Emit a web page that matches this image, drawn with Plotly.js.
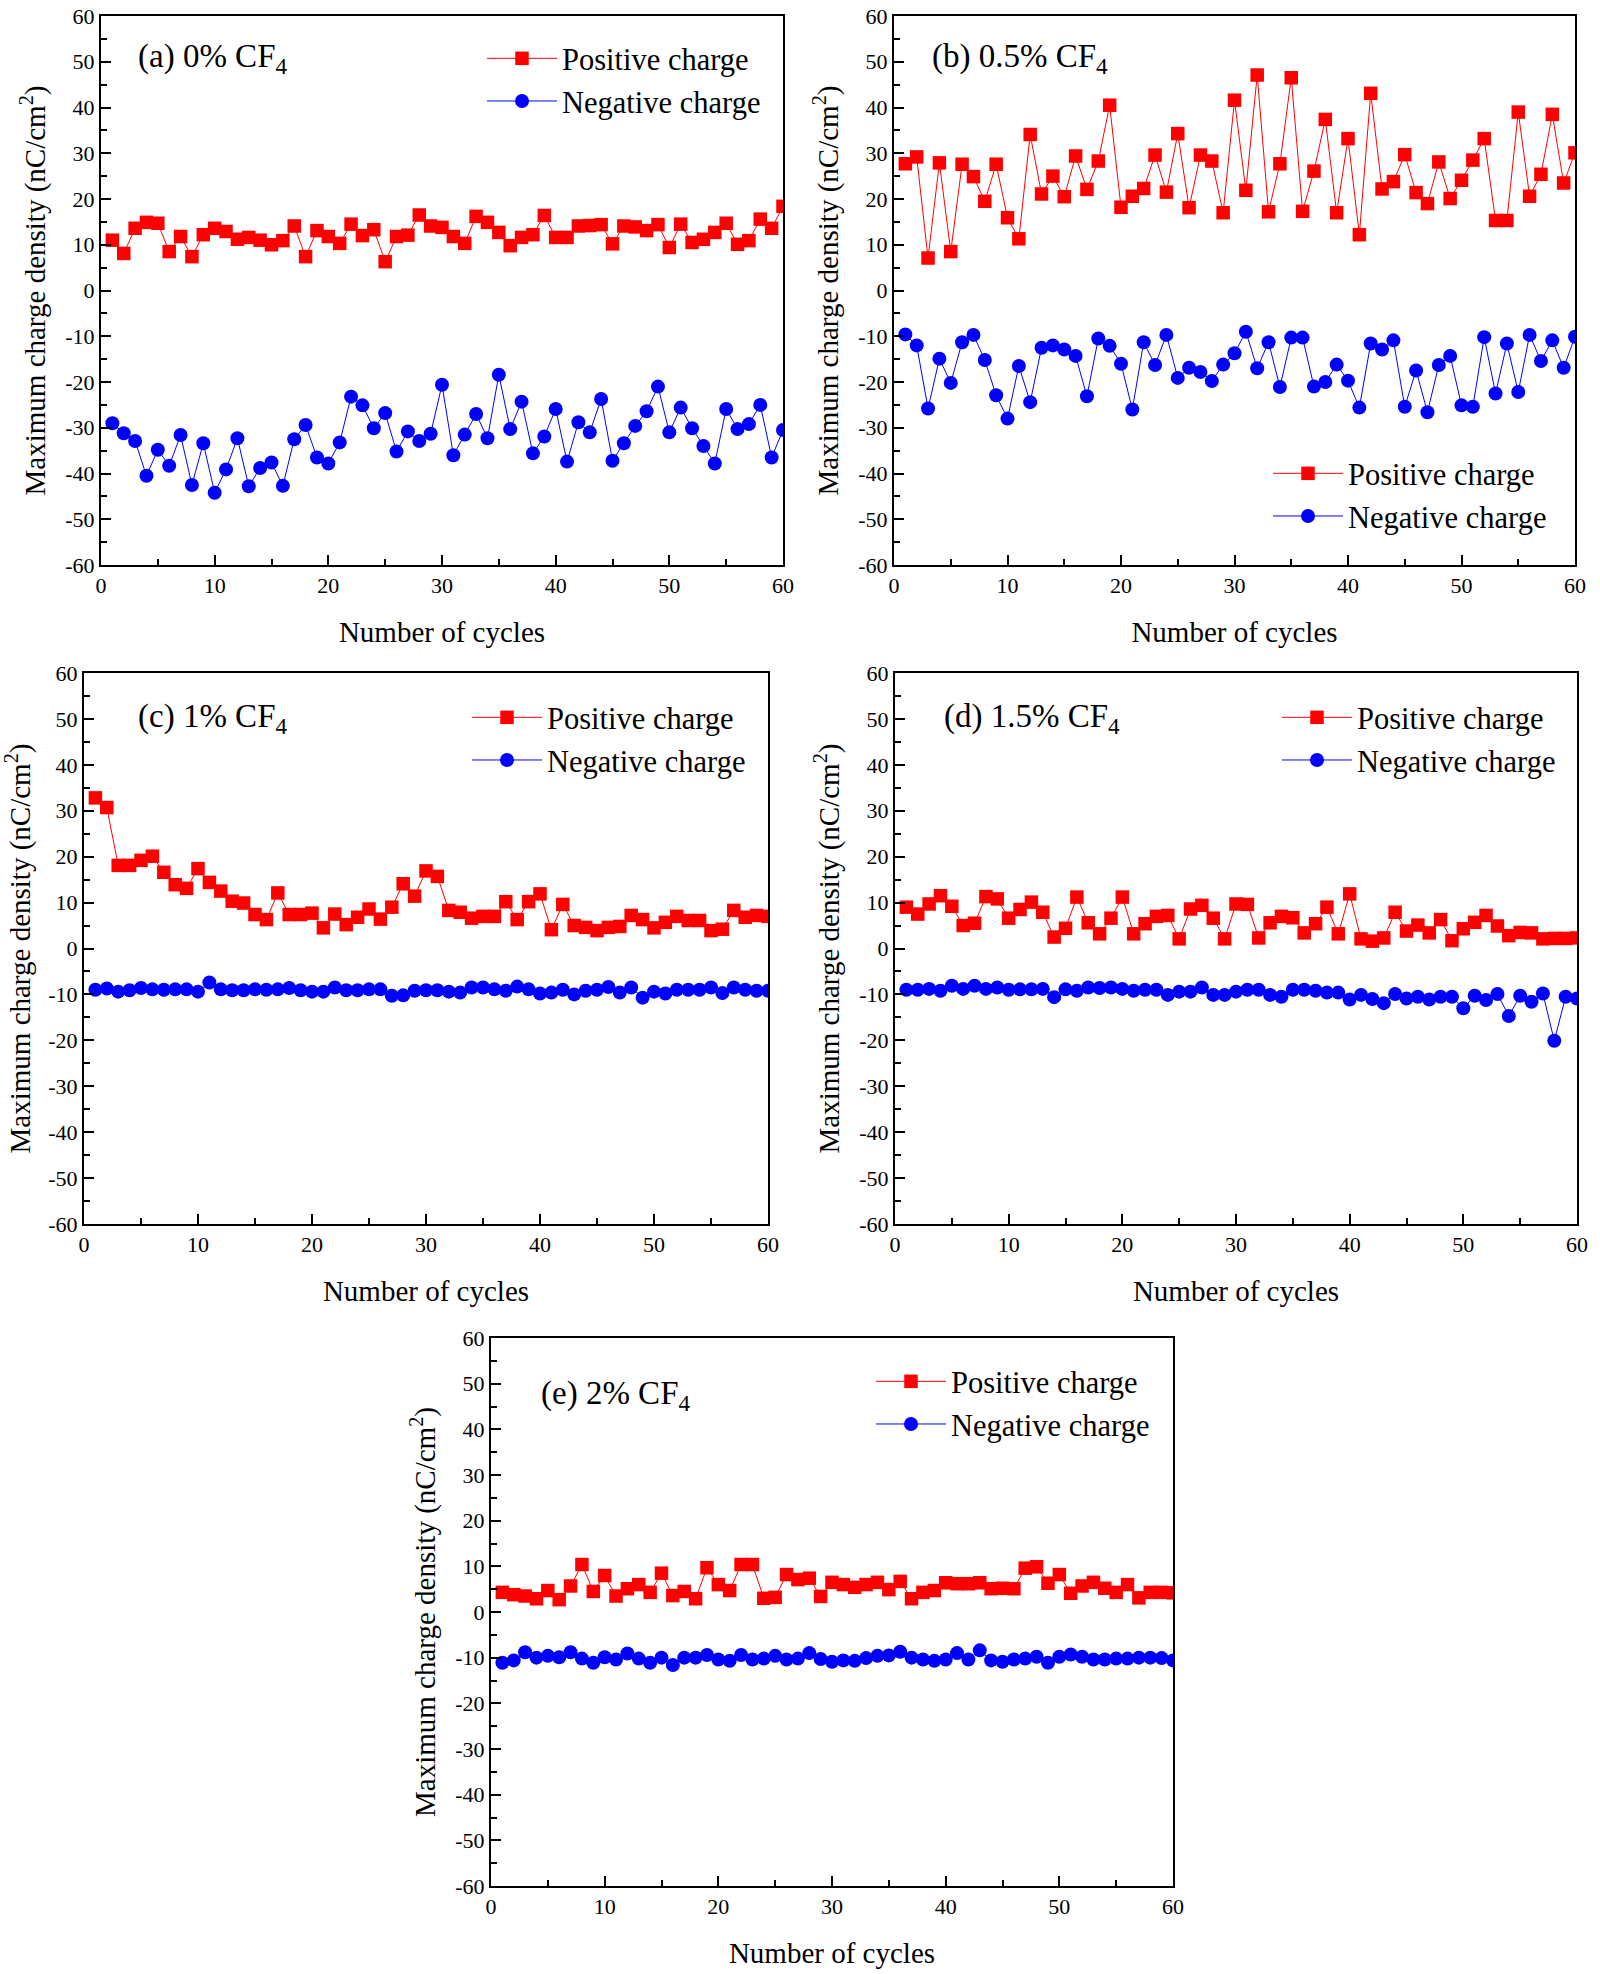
<!DOCTYPE html>
<html>
<head>
<meta charset="utf-8">
<script src="https://cdn.plot.ly/plotly-3.0.1.min.js"></script>
<style>
  html, body { margin: 0; padding: 0; background: #ffffff; }
  #chart { width: 1600px; height: 1974px; }
</style>
</head>
<body>
<div id="chart"></div>
<script>
// ---------------- DATA ----------------
const cycles = [1,2,3,4,5,6,7,8,9,10,11,12,13,14,15,16,17,18,19,20,21,22,23,24,25,26,27,28,29,30,
                31,32,33,34,35,36,37,38,39,40,41,42,43,44,45,46,47,48,49,50,51,52,53,54,55,56,57,58,59,60];

const panelLabels = ['(a) 0% CF<sub>4</sub>', '(b) 0.5% CF<sub>4</sub>', '(c) 1% CF<sub>4</sub>',
                     '(d) 1.5% CF<sub>4</sub>', '(e) 2% CF<sub>4</sub>'];
const seriesNames = ['Positive charge', 'Negative charge'];
const xTitle = 'Number of cycles';
const yTitle = 'Maximum charge density (nC/cm<sup>2</sup>)';
const xTickVals = [0, 10, 20, 30, 40, 50, 60];
const xTickText = ['0', '10', '20', '30', '40', '50', '60'];
const yTickVals = [-60, -50, -40, -30, -20, -10, 0, 10, 20, 30, 40, 50, 60];
const yTickText = ['-60', '-50', '-40', '-30', '-20', '-10', '0', '10', '20', '30', '40', '50', '60'];

// (a) 0% CF4
const posA = [11.0, 8.1, 13.6, 14.9, 14.7, 8.5, 11.8, 7.4, 12.2, 13.6, 12.9, 11.2, 11.6, 11.0, 10.0, 10.9, 14.1, 7.4, 13.1, 11.8,
              10.3, 14.5, 12.0, 13.3, 6.3, 11.8, 12.1, 16.5, 14.1, 13.8, 11.8, 10.3, 16.2, 14.9, 12.7, 9.8, 11.6, 12.2, 16.4, 11.6,
              11.6, 14.1, 14.2, 14.4, 10.2, 14.1, 13.9, 13.1, 14.4, 9.4, 14.5, 10.5, 11.2, 12.7, 14.7, 10.1, 10.9, 15.6, 13.6, 18.4];
const negA = [-29.0, -31.2, -32.9, -40.5, -34.8, -38.3, -31.6, -42.5, -33.4, -44.2, -39.1, -32.3, -42.8, -38.8, -37.6, -42.7, -32.5, -29.4, -36.5, -37.8,
              -33.2, -23.2, -25.1, -30.1, -26.8, -35.2, -30.8, -32.9, -31.3, -20.6, -36.0, -31.5, -27.0, -32.3, -18.4, -30.3, -24.3, -35.6, -31.9, -25.9,
              -37.4, -28.8, -31.0, -23.7, -37.2, -33.4, -29.6, -26.4, -21.0, -31.0, -25.6, -30.1, -34.0, -37.8, -25.9, -30.3, -29.2, -25.0, -36.5, -30.5];

// (b) 0.5% CF4
const posB = [27.7, 29.2, 7.1, 27.9, 8.5, 27.6, 24.9, 19.5, 27.6, 15.9, 11.3, 34.1, 21.1, 25.0, 20.5, 29.4, 22.1, 28.3, 40.5, 18.2,
              20.6, 22.3, 29.6, 21.5, 34.3, 18.1, 29.6, 28.3, 17.0, 41.6, 21.9, 47.1, 17.2, 27.7, 46.5, 17.3, 26.1, 37.4, 17.0, 33.2,
              12.2, 43.1, 22.2, 23.8, 29.7, 21.4, 19.0, 28.1, 20.1, 24.1, 28.5, 33.2, 15.3, 15.3, 39.0, 20.6, 25.4, 38.5, 23.5, 30.1];
const negB = [-9.6, -12.0, -25.8, -14.9, -20.2, -11.3, -9.7, -15.2, -22.9, -28.0, -16.5, -24.4, -12.5, -12.0, -12.9, -14.3, -23.1, -10.5, -12.1, -16.0,
              -26.0, -11.3, -16.3, -9.7, -19.1, -16.9, -17.8, -19.8, -16.2, -13.7, -9.0, -17.0, -11.3, -21.1, -10.3, -10.3, -21.0, -20.0, -16.2, -19.7,
              -25.6, -11.6, -12.9, -10.9, -25.4, -17.5, -26.6, -16.3, -14.3, -25.1, -25.4, -10.2, -22.5, -11.6, -22.2, -9.7, -15.4, -10.9, -16.9, -10.1];

// (c) 1% CF4
const posC = [32.8, 30.7, 18.1, 18.1, 19.2, 20.1, 16.6, 13.9, 13.1, 17.4, 14.4, 12.5, 10.3, 9.9, 7.4, 6.3, 12.1, 7.4, 7.4, 7.7,
              4.5, 7.5, 5.2, 6.8, 8.6, 6.4, 9.0, 14.1, 11.4, 16.9, 15.7, 8.3, 7.9, 6.6, 7.0, 7.0, 10.2, 6.3, 10.2, 11.9,
              4.1, 9.6, 5.0, 4.6, 3.9, 4.6, 4.8, 7.2, 6.3, 4.5, 5.7, 7.0, 6.1, 6.1, 3.9, 4.2, 8.3, 6.8, 7.2, 7.0];
const negC = [-9.0, -8.7, -9.4, -9.1, -8.6, -8.9, -9.0, -8.9, -8.9, -9.4, -7.4, -8.9, -9.1, -9.1, -8.9, -9.0, -8.9, -8.6, -9.1, -9.4,
              -9.4, -8.5, -9.1, -9.1, -8.9, -8.9, -10.3, -10.2, -9.2, -9.1, -9.1, -9.4, -9.6, -8.5, -8.5, -8.9, -9.2, -8.3, -8.9, -9.8,
              -9.6, -9.0, -10.0, -9.2, -9.0, -8.4, -9.6, -8.5, -10.7, -9.4, -9.8, -9.0, -9.0, -9.0, -8.5, -9.7, -8.5, -9.0, -9.2, -9.2];

// (d) 1.5% CF4
const posD = [9.0, 7.5, 9.7, 11.5, 9.2, 5.0, 5.5, 11.3, 10.8, 6.6, 8.5, 10.1, 7.9, 2.5, 4.4, 11.2, 5.6, 3.2, 6.6, 11.2,
              3.2, 5.4, 7.0, 7.2, 2.1, 8.6, 9.4, 6.6, 2.1, 9.7, 9.6, 2.3, 5.6, 7.0, 6.7, 3.4, 5.4, 9.0, 3.2, 11.9,
              2.1, 1.6, 2.3, 7.9, 3.8, 5.1, 3.4, 6.3, 1.7, 4.3, 5.7, 7.2, 4.9, 2.8, 3.5, 3.4, 2.1, 2.2, 2.2, 2.3];
const negD = [-9.0, -9.0, -8.8, -9.2, -8.1, -8.8, -8.1, -8.8, -8.5, -9.0, -8.9, -8.9, -8.8, -10.6, -8.9, -9.2, -8.5, -8.6, -8.5, -8.8,
              -9.2, -9.0, -9.0, -10.1, -9.4, -9.4, -8.5, -10.1, -10.1, -9.4, -9.0, -9.0, -10.1, -10.5, -9.0, -9.0, -9.2, -9.6, -9.6, -11.1,
              -10.1, -11.0, -11.9, -9.9, -10.9, -10.5, -11.1, -10.5, -10.5, -13.0, -10.3, -11.2, -9.9, -14.7, -10.3, -11.6, -9.8, -20.1, -10.5, -10.9];

// (e) 2% CF4
const posE = [4.3, 3.8, 3.5, 2.9, 4.7, 2.7, 5.7, 10.4, 4.5, 8.0, 3.5, 5.1, 6.0, 4.3, 8.5, 3.6, 4.5, 2.9, 9.7, 6.0,
              4.7, 10.4, 10.4, 3.0, 3.2, 8.2, 7.1, 7.4, 3.4, 6.5, 6.0, 5.4, 6.0, 6.5, 4.9, 6.7, 2.9, 4.3, 4.7, 6.4,
              6.2, 6.2, 6.4, 5.1, 5.2, 5.1, 9.6, 9.9, 6.3, 8.2, 4.1, 5.7, 6.5, 5.2, 4.3, 6.0, 3.1, 4.3, 4.3, 4.2];
const negE = [-11.1, -10.6, -8.8, -10.0, -9.6, -9.9, -8.8, -10.2, -11.1, -9.9, -10.4, -9.1, -10.2, -11.1, -10.0, -11.6, -10.0, -10.0, -9.4, -10.4,
              -10.7, -9.4, -10.4, -10.2, -9.6, -10.4, -10.2, -9.0, -10.3, -10.9, -10.6, -10.7, -10.1, -9.6, -9.5, -8.7, -10.0, -10.4, -10.7, -10.4,
              -9.0, -10.4, -8.4, -10.6, -10.9, -10.4, -10.2, -9.8, -11.1, -9.8, -9.3, -9.8, -10.4, -10.4, -10.2, -10.2, -10.0, -10.0, -10.1, -10.6];

// ---------------- LAYOUT HELPERS ----------------
const W = 1600, H = 1974;
const FONT = '"Liberation Serif", "Times New Roman", serif';
const RED = '#ff0000', BLUE = '#0000ff';

// plot-area boxes in pixels: [left, right, top, bottom]
const boxes = [
  [101, 783, 16, 565],
  [894, 1575, 16, 565],
  [84, 768, 673, 1224],
  [895, 1577, 673, 1224],
  [491, 1173, 1338, 1886]
];
// legend top-left (px)
const legendPos = [[482, 32], [1268, 447], [467, 691], [1277, 691], [871, 1355]];
// panel label left / center-y (px)
const labelPos = [[136, 59], [930, 59], [136, 719], [942, 719], [539, 1395]];

const posSeries = [posA, posB, posC, posD, posE];
const negSeries = [negA, negB, negC, negD, negE];

const data = [];
const layout = {
  width: W, height: H,
  margin: {l: 0, r: 0, t: 0, b: 0},
  paper_bgcolor: '#ffffff', plot_bgcolor: '#ffffff',
  font: {family: FONT, color: '#000000'},
  showlegend: true,
  annotations: []
};

function axisBase(isX) {
  return {
    range: isX ? [0, 60] : [-60, 60],
    tickmode: 'array',
    tickvals: isX ? xTickVals : yTickVals,
    ticktext: isX ? xTickText : yTickText,
    ticks: 'inside', ticklen: 10, tickwidth: 2, tickcolor: '#000000',
    minor: {ticks: 'inside', tickmode: 'linear', tick0: 0, dtick: 5, ticklen: 6, tickwidth: 2, tickcolor: '#000000', showgrid: false},
    showline: true, linewidth: 2, linecolor: '#000000', mirror: true,
    showgrid: false, zeroline: false,
    automargin: false,
    fixedrange: true,
    tickfont: {family: FONT, size: 22, color: '#000000'},
    title: {
      text: isX ? xTitle : yTitle,
      font: {family: FONT, size: 29, color: '#000000'},
      standoff: isX ? 24 : 11
    }
  };
}

for (let i = 0; i < 5; i++) {
  const n = i === 0 ? '' : String(i + 1);
  const b = boxes[i];
  const xa = axisBase(true), ya = axisBase(false);
  xa.domain = [b[0] / W, b[1] / W];
  ya.domain = [1 - b[3] / H, 1 - b[2] / H];
  xa.anchor = 'y' + n;
  ya.anchor = 'x' + n;
  layout['xaxis' + n] = xa;
  layout['yaxis' + n] = ya;

  const legName = 'legend' + n;
  layout[legName] = {
    x: legendPos[i][0] / W, y: 1 - legendPos[i][1] / H,
    xanchor: 'left', yanchor: 'top',
    bgcolor: 'rgba(0,0,0,0)', borderwidth: 0,
    font: {family: FONT, size: 30.5, color: '#000000'},
    itemwidth: 70, tracegroupgap: 0, traceorder: 'normal'
  };

  data.push({
    type: 'scatter', mode: 'lines+markers', name: seriesNames[0],
    x: cycles, y: posSeries[i], xaxis: 'x' + n, yaxis: 'y' + n, legend: legName,
    line: {color: RED, width: 1},
    marker: {symbol: 'square', size: 13.5, color: RED}
  });
  data.push({
    type: 'scatter', mode: 'lines+markers', name: seriesNames[1],
    x: cycles, y: negSeries[i], xaxis: 'x' + n, yaxis: 'y' + n, legend: legName,
    line: {color: BLUE, width: 1},
    marker: {symbol: 'circle', size: 14, color: BLUE}
  });

  layout.annotations.push({
    xref: 'paper', yref: 'paper',
    x: labelPos[i][0] / W, y: 1 - labelPos[i][1] / H,
    xanchor: 'left', yanchor: 'middle',
    text: panelLabels[i], showarrow: false,
    font: {family: FONT, size: 33, color: '#000000'}
  });
}

Plotly.newPlot('chart', data, layout, {displayModeBar: false, staticPlot: true});
</script>
</body>
</html>
